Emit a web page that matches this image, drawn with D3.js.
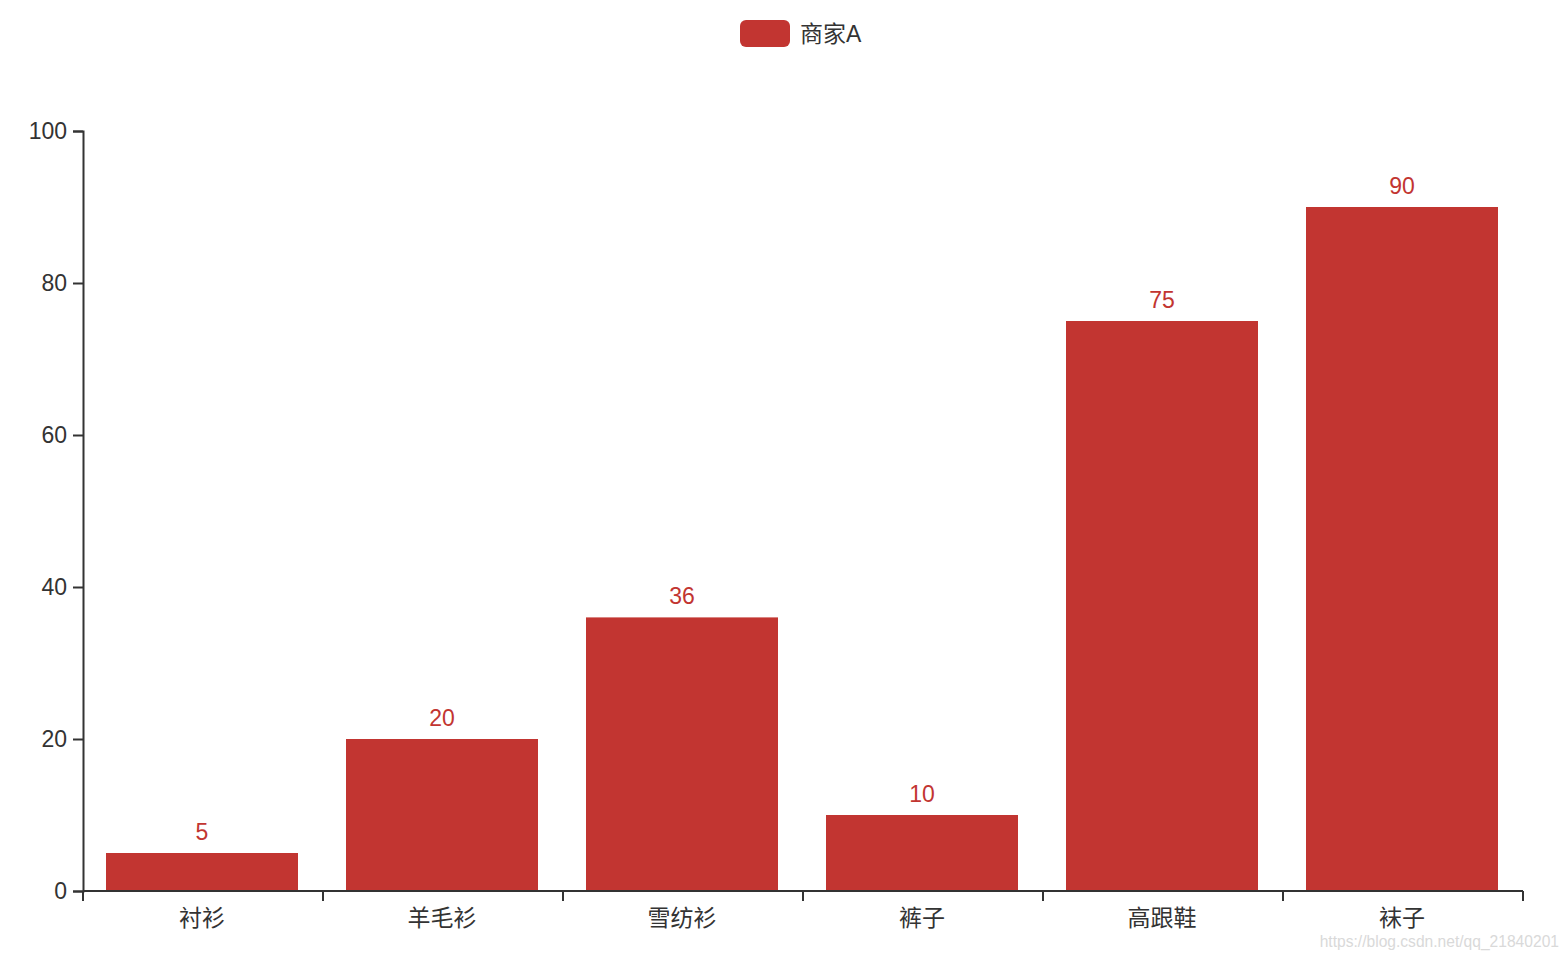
<!DOCTYPE html>
<html>
<head>
<meta charset="utf-8">
<script src="https://cdn.jsdelivr.net/npm/d3@7/dist/d3.min.js"></script>
<style>
html,body{margin:0;padding:0;background:#fff;}
svg{display:block;}
text{font-family:"Liberation Sans","Noto Sans CJK SC",sans-serif;}
</style>
</head>
<body>
<svg id="chart" width="1568" height="958"></svg>
<script>
const categories = ["衬衫","羊毛衫","雪纺衫","裤子","高跟鞋","袜子"];
const seriesName = "商家A";
const values = [5, 20, 36, 10, 75, 90];
const yTicks = [0, 20, 40, 60, 80, 100];
const watermark = "https://blog.csdn.net/qq_21840201";

const color = "#c23531";
const axisColor = "#333";
const fontFam = '"Liberation Sans","Noto Sans CJK SC",sans-serif';
const svg = d3.select("#chart");
const margin = {left: 83, right: 45, top: 131, bottom: 67};
const W = 1568, H = 958;

const x = d3.scaleBand().domain(categories).range([margin.left - 1, W - margin.right - 1]).paddingInner(0.2).paddingOuter(0.1);
const y = d3.scaleLinear().domain([0, 100]).range([H - margin.bottom, margin.top]);

// bars
svg.append("g").selectAll("rect").data(values).join("rect")
  .attr("x", (d,i) => x(categories[i]))
  .attr("width", x.bandwidth())
  .attr("y", d => y(d))
  .attr("height", d => y(0) - y(d))
  .attr("fill", color);

// labels
svg.append("g").selectAll("text").data(values).join("text")
  .attr("x", (d,i) => x(categories[i]) + x.bandwidth()/2)
  .attr("y", d => y(d) - 13)
  .attr("text-anchor", "middle")
  .attr("font-size", 23)
  .attr("fill", color)
  .text(d => d);

// y axis
const yAxis = svg.append("g").attr("transform", `translate(${margin.left},0)`)
  .call(d3.axisLeft(y).tickValues(yTicks).tickSize(10).tickPadding(6));
yAxis.selectAll("path,line").attr("stroke", axisColor).attr("stroke-width", 2);
yAxis.selectAll("text").attr("font-size", 23).attr("fill", axisColor)
  .attr("font-family", fontFam);

// x axis with boundary ticks
const xAxisG = svg.append("g").attr("transform", `translate(0,${y(0)})`);
const xr = [margin.left, W - margin.right];
xAxisG.append("line").attr("x1", xr[0]).attr("x2", xr[1]).attr("y1", 0).attr("y2", 0)
  .attr("stroke", axisColor).attr("stroke-width", 2);
const boundaries = d3.range(categories.length + 1).map(i => xr[0] + i * (xr[1]-xr[0]) / categories.length);
xAxisG.selectAll("line.tick").data(boundaries).join("line").attr("class","tick")
  .attr("x1", d => d).attr("x2", d => d).attr("y1", 0).attr("y2", 10)
  .attr("stroke", axisColor).attr("stroke-width", 2);
xAxisG.selectAll("text").data(categories).join("text")
  .attr("x", d => x(d) + x.bandwidth()/2)
  .attr("y", 35)
  .attr("text-anchor", "middle")
  .attr("font-size", 23)
  .attr("fill", axisColor)
  .text(d => d);

// legend
const lg = svg.append("g");
lg.append("rect").attr("x", 740).attr("y", 20).attr("width", 50).attr("height", 27).attr("rx", 6).attr("fill", color);
lg.append("text").attr("x", 800).attr("y", 34).attr("dominant-baseline", "central")
  .attr("font-size", 23).attr("fill", axisColor).text(seriesName);

// watermark
svg.append("text").attr("x", 1559).attr("y", 947).attr("text-anchor", "end")
  .attr("font-size", 15.6).attr("fill", "#d9d9d9")
  .attr("font-family", "'Liberation Sans', Arial, sans-serif")
  .text(watermark);
</script>
</body>
</html>
